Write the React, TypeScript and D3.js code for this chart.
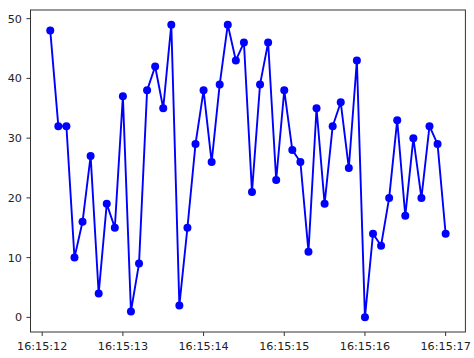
import React from "react";
import * as d3 from "d3";

const values: number[] = [
  48, 32, 32, 10, 16, 27, 4, 19, 15, 37,
  1, 9, 38, 42, 35, 49, 2, 15, 29, 38,
  26, 39, 49, 43, 46, 21, 39, 46, 23, 38,
  28, 26, 11, 35, 19, 32, 36, 25, 43, 0,
  14, 12, 20, 33, 17, 30, 20, 32, 29, 14,
];
// seconds after 16:15:00
const startSec = 12.1;
const stepSec = 0.1;
const times: Date[] = values.map((_, i) => new Date(2024, 0, 1, 16, 15, 0, Math.round((startSec + i * stepSec) * 1000)));
const xTickSecs: number[] = [12, 13, 14, 15, 16, 17];
const yTicks: number[] = [0, 10, 20, 30, 40, 50];

const W = 474, H = 358;
const L = 30.5, R = 465.4, T = 10, B = 332;

export default function App() {
  const t0 = times[0].getTime(), t1 = times[times.length - 1].getTime();
  const xm = (t1 - t0) * 0.05;
  const x = d3.scaleTime().domain([new Date(t0 - xm), new Date(t1 + xm)]).range([L, R]);
  const vmin = d3.min(values)!, vmax = d3.max(values)!;
  const ym = (vmax - vmin) * 0.05;
  const y = d3.scaleLinear().domain([vmin - ym, vmax + ym]).range([B, T]);
  const line = d3.line<number>().x((_, i) => x(times[i])).y((d) => y(d));
  const fmt = d3.timeFormat("%H:%M:%S");
  const xTicks = xTickSecs.map((s) => new Date(2024, 0, 1, 16, 15, s));
  const font = "DejaVu Sans, sans-serif";
  return (
    <svg width={W} height={H} style={{ position: "absolute", left: 0, top: 0, background: "#fff" }}>
      <rect x={0} y={0} width={W} height={H} fill="#fff" />
      <path d={line(values)!} fill="none" stroke="#0000ff" strokeWidth={1.9} strokeLinejoin="round" />
      {values.map((v, i) => (
        <circle key={i} cx={x(times[i])} cy={y(v)} r={4} fill="#0000ff" />
      ))}
      <rect x={L} y={T} width={R - L} height={B - T} fill="none" stroke="#333" strokeWidth={1} />
      {xTicks.map((d, i) => (
        <g key={i} transform={`translate(${x(d)},${B})`}>
          <line y1={0} y2={4} stroke="#333" strokeWidth={1} />
          <text y={18} textAnchor="middle" fontFamily={font} fontSize={11.2} fill="#222">{fmt(d)}</text>
        </g>
      ))}
      {yTicks.map((v, i) => (
        <g key={i} transform={`translate(${L},${y(v)})`}>
          <line x1={0} x2={-4} stroke="#333" strokeWidth={1} />
          <text x={-8.5} dy="0.36em" textAnchor="end" fontFamily={font} fontSize={11.2} fill="#222">{v}</text>
        </g>
      ))}
    </svg>
  );
}
